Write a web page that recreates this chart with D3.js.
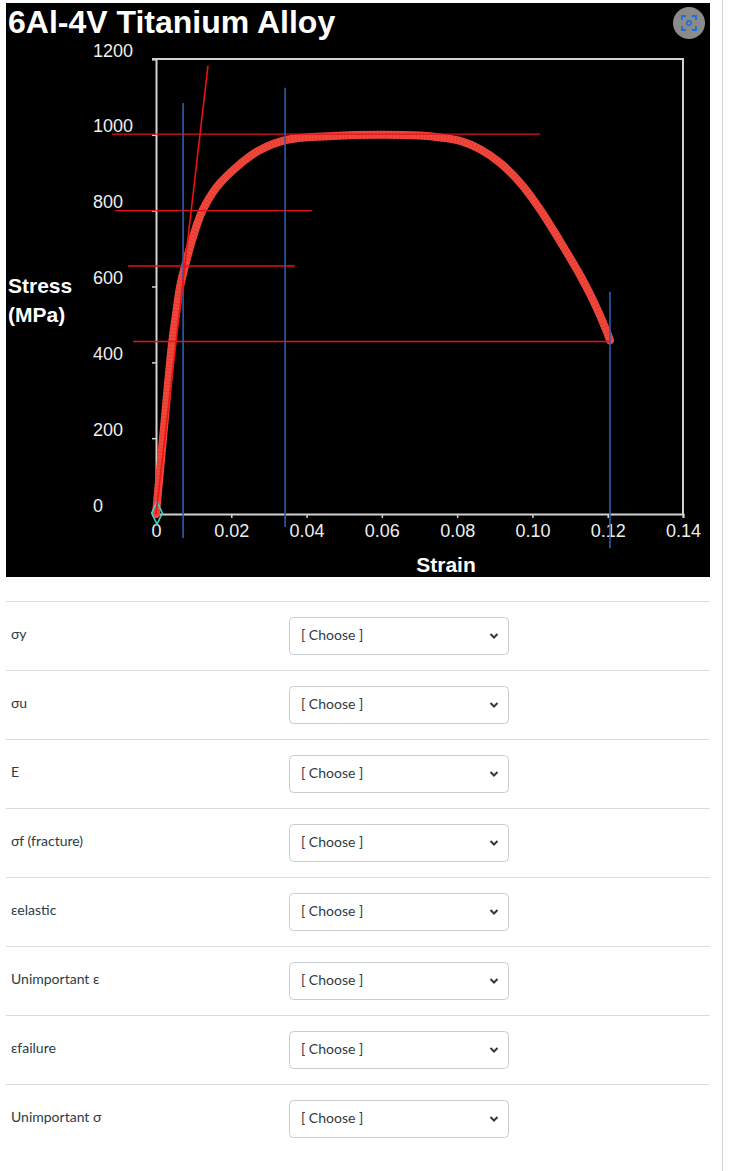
<!DOCTYPE html>
<html>
<head>
<meta charset="utf-8">
<script src="https://cdn.jsdelivr.net/npm/d3@7"></script>
<style>
  body { margin: 0; background: #fff; }
  svg { display: block; }
</style>
</head>
<body>
<div id="chart"></div>
<script>
// Stress-strain curve
const strain = [0, 0.002, 0.0043, 0.0055, 0.0064, 0.0077, 0.0096, 0.0122, 0.0162, 0.0215, 0.0276, 0.0348,
    0.047, 0.06, 0.07, 0.0755, 0.0808, 0.0861, 0.0914, 0.0967, 0.102, 0.1073, 0.1126, 0.1161, 0.1198, 0.1206];
const stress = [0, 215, 453, 540, 600, 654, 723, 797, 863, 916, 960, 987,
    997, 1000, 998, 993, 984, 962, 926, 874, 804, 720, 631, 564, 480, 458];

// Reference lines drawn over the curve
const hLineStress = [1002, 800, 654, 455];
const hLineFrom = [-0.0117, -0.0109, -0.0074, -0.0061];
const hLineTo = [0.102, 0.0414, 0.0369, 0.1206];
const vLineStrain = [0.0072, 0.0343, 0.1206];
const vLineTop = [1084, 1124, 586];
const vLineBottom = [-63, -34, -90];
const modulusLine = [[0, 0], [0.0138, 1182]];

const xTicks = [0, 0.02, 0.04, 0.06, 0.08, 0.10, 0.12, 0.14];
const xTickLabels = ["0", "0.02", "0.04", "0.06", "0.08", "0.10", "0.12", "0.14"];
const yTicks = [0, 200, 400, 600, 800, 1000, 1200];

const formLabels = ["σy", "σu", "E", "σf (fracture)", "εelastic", "Unimportant ε", "εfailure", "Unimportant σ"];

const W = 732, H = 1171;
const svg = d3.select("#chart").append("svg")
    .attr("width", W)
    .attr("height", H);

// right page edge line
svg.append("line")
    .attr("x1", 722.5).attr("x2", 722.5)
    .attr("y1", 0).attr("y2", H)
    .attr("stroke", "#d4d4d4");

// black picture
svg.append("rect")
    .attr("x", 6).attr("y", 3)
    .attr("width", 704).attr("height", 574)
    .attr("fill", "#000");

svg.append("text")
    .attr("x", 8).attr("y", 33)
    .attr("fill", "#fff")
    .style("font", "bold 32px 'Liberation Sans', Arial, sans-serif")
    .text("6Al-4V Titanium Alloy");

// camera badge top right
const badge = svg.append("g").attr("transform", "translate(689,23)");
badge.append("circle").attr("r", 16).attr("fill", "#8a8a8a");
badge.append("path")
    .attr("d", "M-7,-3 V-7 H-3 M3,-7 H7 V-3 M7,3 V7 H3 M-3,7 H-7 V3")
    .attr("fill", "none").attr("stroke", "#1a6fdc").attr("stroke-width", 1.8);
badge.append("circle").attr("r", 2.2).attr("fill", "none")
    .attr("stroke", "#1a6fdc").attr("stroke-width", 1.5);

// scales
const x = d3.scaleLinear().domain([0, 0.14]).range([156, 683]);
const y = d3.scaleLinear().domain([0, 1200]).range([514, 59]);

const axisColor = "#d2d2d2";
const tickFont = "18px 'Liberation Sans', Arial, sans-serif";

// x axis
const gx = svg.append("g")
    .attr("transform", `translate(0,${y(0)})`)
    .call(d3.axisBottom(x).tickValues(xTicks).tickSize(4)
        .tickFormat((d, i) => xTickLabels[i]));
gx.select(".domain").attr("stroke", axisColor).attr("stroke-width", 2);
gx.selectAll(".tick line").attr("stroke", axisColor).attr("stroke-width", 1.5);
gx.selectAll(".tick text")
    .attr("y", 23).attr("dy", 0)
    .attr("fill", "#eee")
    .style("font", tickFont);

// y axis
const gy = svg.append("g")
    .attr("transform", `translate(${x(0)},0)`)
    .call(d3.axisLeft(y).tickValues(yTicks).tickSize(4).tickFormat(d3.format("d")));
gy.select(".domain").attr("stroke", axisColor).attr("stroke-width", 2);
gy.selectAll(".tick line").attr("stroke", axisColor).attr("stroke-width", 1.5);
gy.selectAll(".tick text")
    .attr("x", -63).attr("y", -3).attr("dy", 0)
    .attr("text-anchor", "start")
    .attr("fill", "#eee")
    .style("font", tickFont);

// top and right frame
svg.append("path")
    .attr("d", `M${x(0) - 4},${y(1200)} H${x(0.14)} V${y(0)}`)
    .attr("fill", "none")
    .attr("stroke", axisColor)
    .attr("stroke-width", 2);

// axis titles
const titleFont = "bold 21px 'Liberation Sans', Arial, sans-serif";
svg.append("text").attr("x", 8).attr("y", 293)
    .attr("fill", "#fff").style("font", titleFont).text("Stress");
svg.append("text").attr("x", 8).attr("y", 322)
    .attr("fill", "#fff").style("font", titleFont).text("(MPa)");
svg.append("text").attr("x", 446).attr("y", 572)
    .attr("text-anchor", "middle")
    .attr("fill", "#fff").style("font", titleFont).text("Strain");

// the curve
const pts = strain.map((s, i) => [s, stress[i]]);
const line = d3.line()
    .x(d => x(d[0]))
    .y(d => y(d[1]))
    .curve(d3.curveCatmullRom.alpha(0.5));

svg.append("path")
    .datum(pts)
    .attr("d", line)
    .attr("fill", "none")
    .attr("stroke", "#f2473b")
    .attr("stroke-width", 8)
    .attr("stroke-linecap", "round");
svg.append("path")
    .datum(pts)
    .attr("d", line)
    .attr("fill", "none")
    .attr("stroke", "#c8302a")
    .attr("stroke-opacity", 0.4)
    .attr("stroke-width", 7)
    .attr("stroke-dasharray", "1.2 2.2");

// start marker
svg.append("path")
    .attr("d", d3.symbol().type(d3.symbolDiamond).size(110))
    .attr("transform", `translate(${x(0) + 1},${y(0) - 1}) scale(0.95,1.15)`)
    .attr("fill", "none")
    .attr("stroke", "#3fd3d0")
    .attr("stroke-width", 1.6);

// horizontal red lines
svg.selectAll(".hline")
    .data(hLineStress)
    .enter().append("line")
    .attr("class", "hline")
    .attr("x1", (d, i) => x(hLineFrom[i]))
    .attr("x2", (d, i) => x(hLineTo[i]))
    .attr("y1", d => y(d))
    .attr("y2", d => y(d))
    .attr("stroke", "#e3121b")
    .attr("stroke-width", 1.4);

// vertical blue lines
svg.selectAll(".vline")
    .data(vLineStrain)
    .enter().append("line")
    .attr("class", "vline")
    .attr("x1", d => x(d))
    .attr("x2", d => x(d))
    .attr("y1", (d, i) => y(vLineTop[i]))
    .attr("y2", (d, i) => y(vLineBottom[i]))
    .attr("stroke", "#2c5bb0")
    .attr("stroke-width", 1.6);

// modulus line
svg.append("line")
    .attr("x1", x(modulusLine[0][0])).attr("y1", y(modulusLine[0][1]))
    .attr("x2", x(modulusLine[1][0])).attr("y2", y(modulusLine[1][1]))
    .attr("stroke", "#ee1111")
    .attr("stroke-width", 1.6);

// matching form below the picture
const rowH = 69, row0 = 601;
const formFont = "14px Lato, 'Open Sans', sans-serif";
const rows = svg.selectAll(".row")
    .data(formLabels)
    .enter().append("g")
    .attr("class", "row")
    .attr("transform", (d, i) => `translate(0,${row0 + i * rowH})`);

rows.append("line")
    .attr("x1", 6).attr("x2", 710)
    .attr("y1", 0.5).attr("y2", 0.5)
    .attr("stroke", "#dcdcdc");

rows.append("text")
    .attr("x", 11).attr("y", 38)
    .attr("fill", "#2d3b45")
    .style("font", formFont)
    .text(d => d);

rows.append("rect")
    .attr("x", 289.5).attr("y", 16.5)
    .attr("width", 219).attr("height", 37)
    .attr("rx", 4)
    .attr("fill", "#fff")
    .attr("stroke", "#c7cdd1");

rows.append("text")
    .attr("x", 301).attr("y", 39)
    .attr("fill", "#2d3b45")
    .style("font", formFont)
    .text("[ Choose ]");

rows.append("path")
    .attr("d", "M490.5,33 L494,36.5 L497.5,33")
    .attr("fill", "none")
    .attr("stroke", "#2d3b45")
    .attr("stroke-width", 2);
</script>
</body>
</html>
